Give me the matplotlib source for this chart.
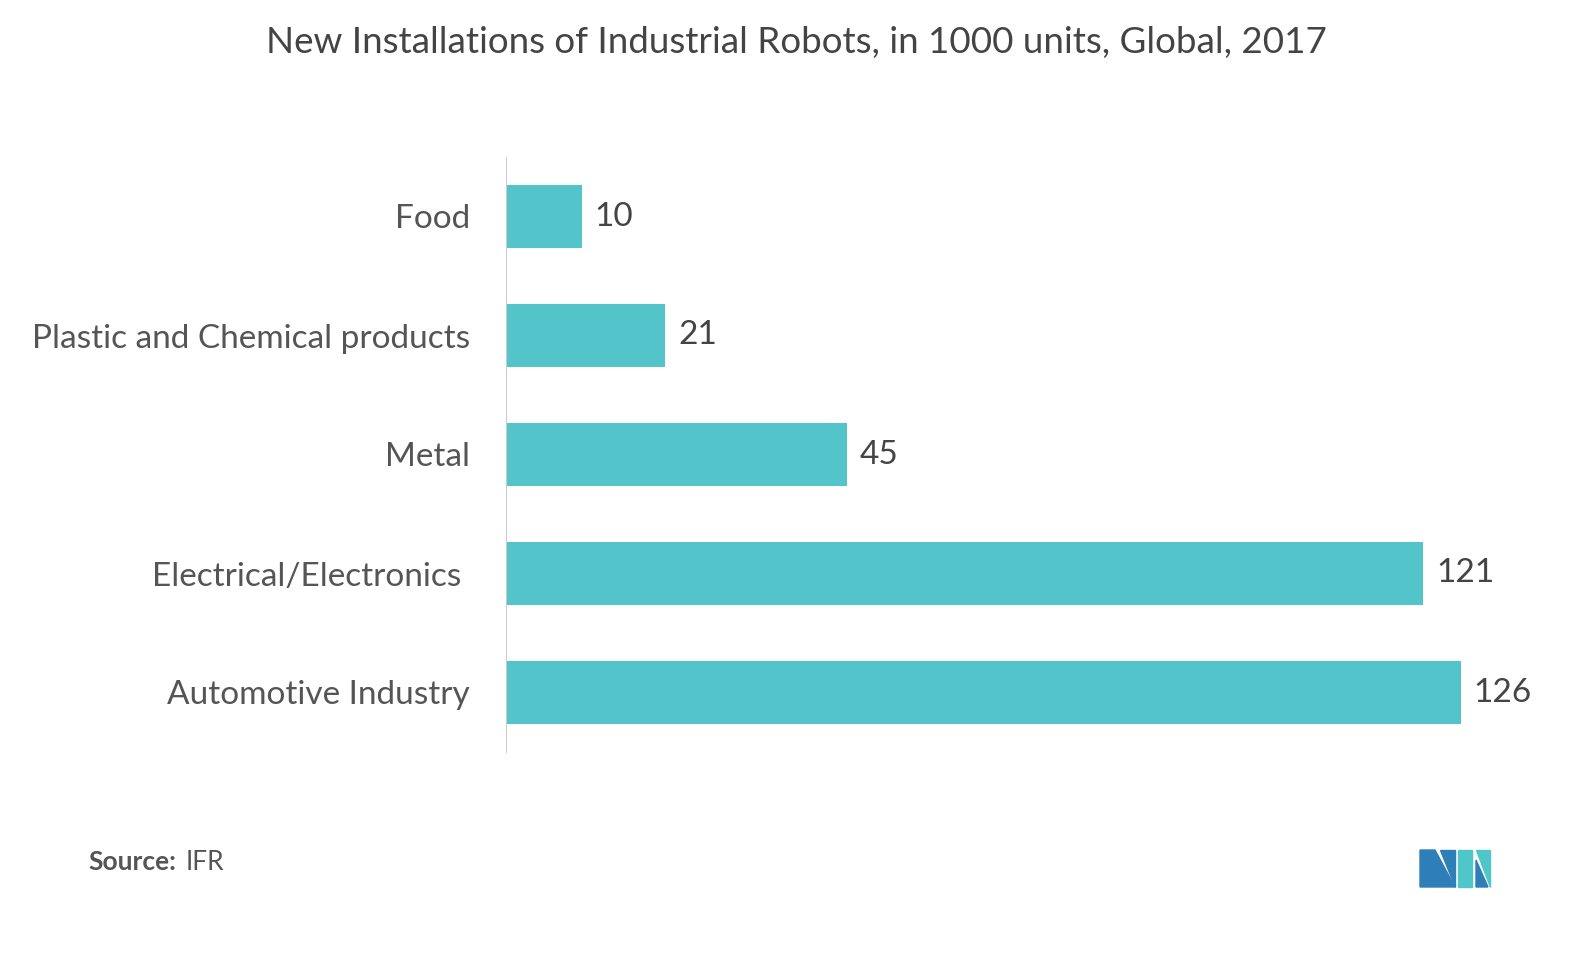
import matplotlib
matplotlib.use("Agg")
import matplotlib.pyplot as plt
from matplotlib.patches import Polygon

categories = ["Food", "Plastic and Chemical products", "Metal", "Electrical/Electronics ", "Automotive Industry"]
values = [10, 21, 45, 121, 126]

plt.rcParams['font.family'] = ['Lato', 'DejaVu Sans']
fig = plt.figure(figsize=(15.92, 9.68), dpi=100)
ax = fig.add_axes([506/1592, 1-752/968, 1061/1592, (752-157)/968])
y = list(range(len(categories)))
ax.barh(y, values, height=0.536, color="#52C4CA")
ax.set_xlim(0, 140)
ax.set_ylim(4.5, -0.5)
ax.set_yticks(y)
ax.set_yticklabels(categories, fontsize=24, color="#555555")
ax.tick_params(axis='y', length=0, pad=26)
ax.set_xticks([])
for s in ["top", "right", "bottom"]:
    ax.spines[s].set_visible(False)
ax.spines["left"].set_color("#cccccc")
for yi, v in zip(y, values):
    ax.text(v + 1.7, yi, str(v), va="center", ha="left", fontsize=24, color="#444444")

fig.text(0.5, 1-42/968, "New Installations of Industrial Robots, in 1000 units, Global, 2017",
         ha="center", va="center", fontsize=26.5, color="#444444")
fig.text(88/1592, 1-862/968, "Source:", fontsize=19, fontweight="bold", color="#555555", va="center")
fig.text(186/1592, 1-862/968, "IFR", fontsize=19, color="#555555", va="center")

def P(pts, c):
    fig.patches.append(Polygon([(x/1592, 1-yy/968) for x, yy in pts], closed=True,
                               transform=fig.transFigure, color=c))
P([(1420, 887), (1420, 850), (1435, 850), (1455, 887)], "#2E7FB8")
P([(1440, 850), (1455, 850), (1455, 887)], "#2E7FB8")
P([(1458, 850), (1472, 850), (1472, 887), (1458, 887)], "#4FC6C9")
P([(1476, 850), (1490, 850), (1490, 887)], "#4FC6C9")
P([(1476, 860), (1488, 887), (1476, 887)], "#2E7FB8")
fig.savefig("out.png", dpi=100)
